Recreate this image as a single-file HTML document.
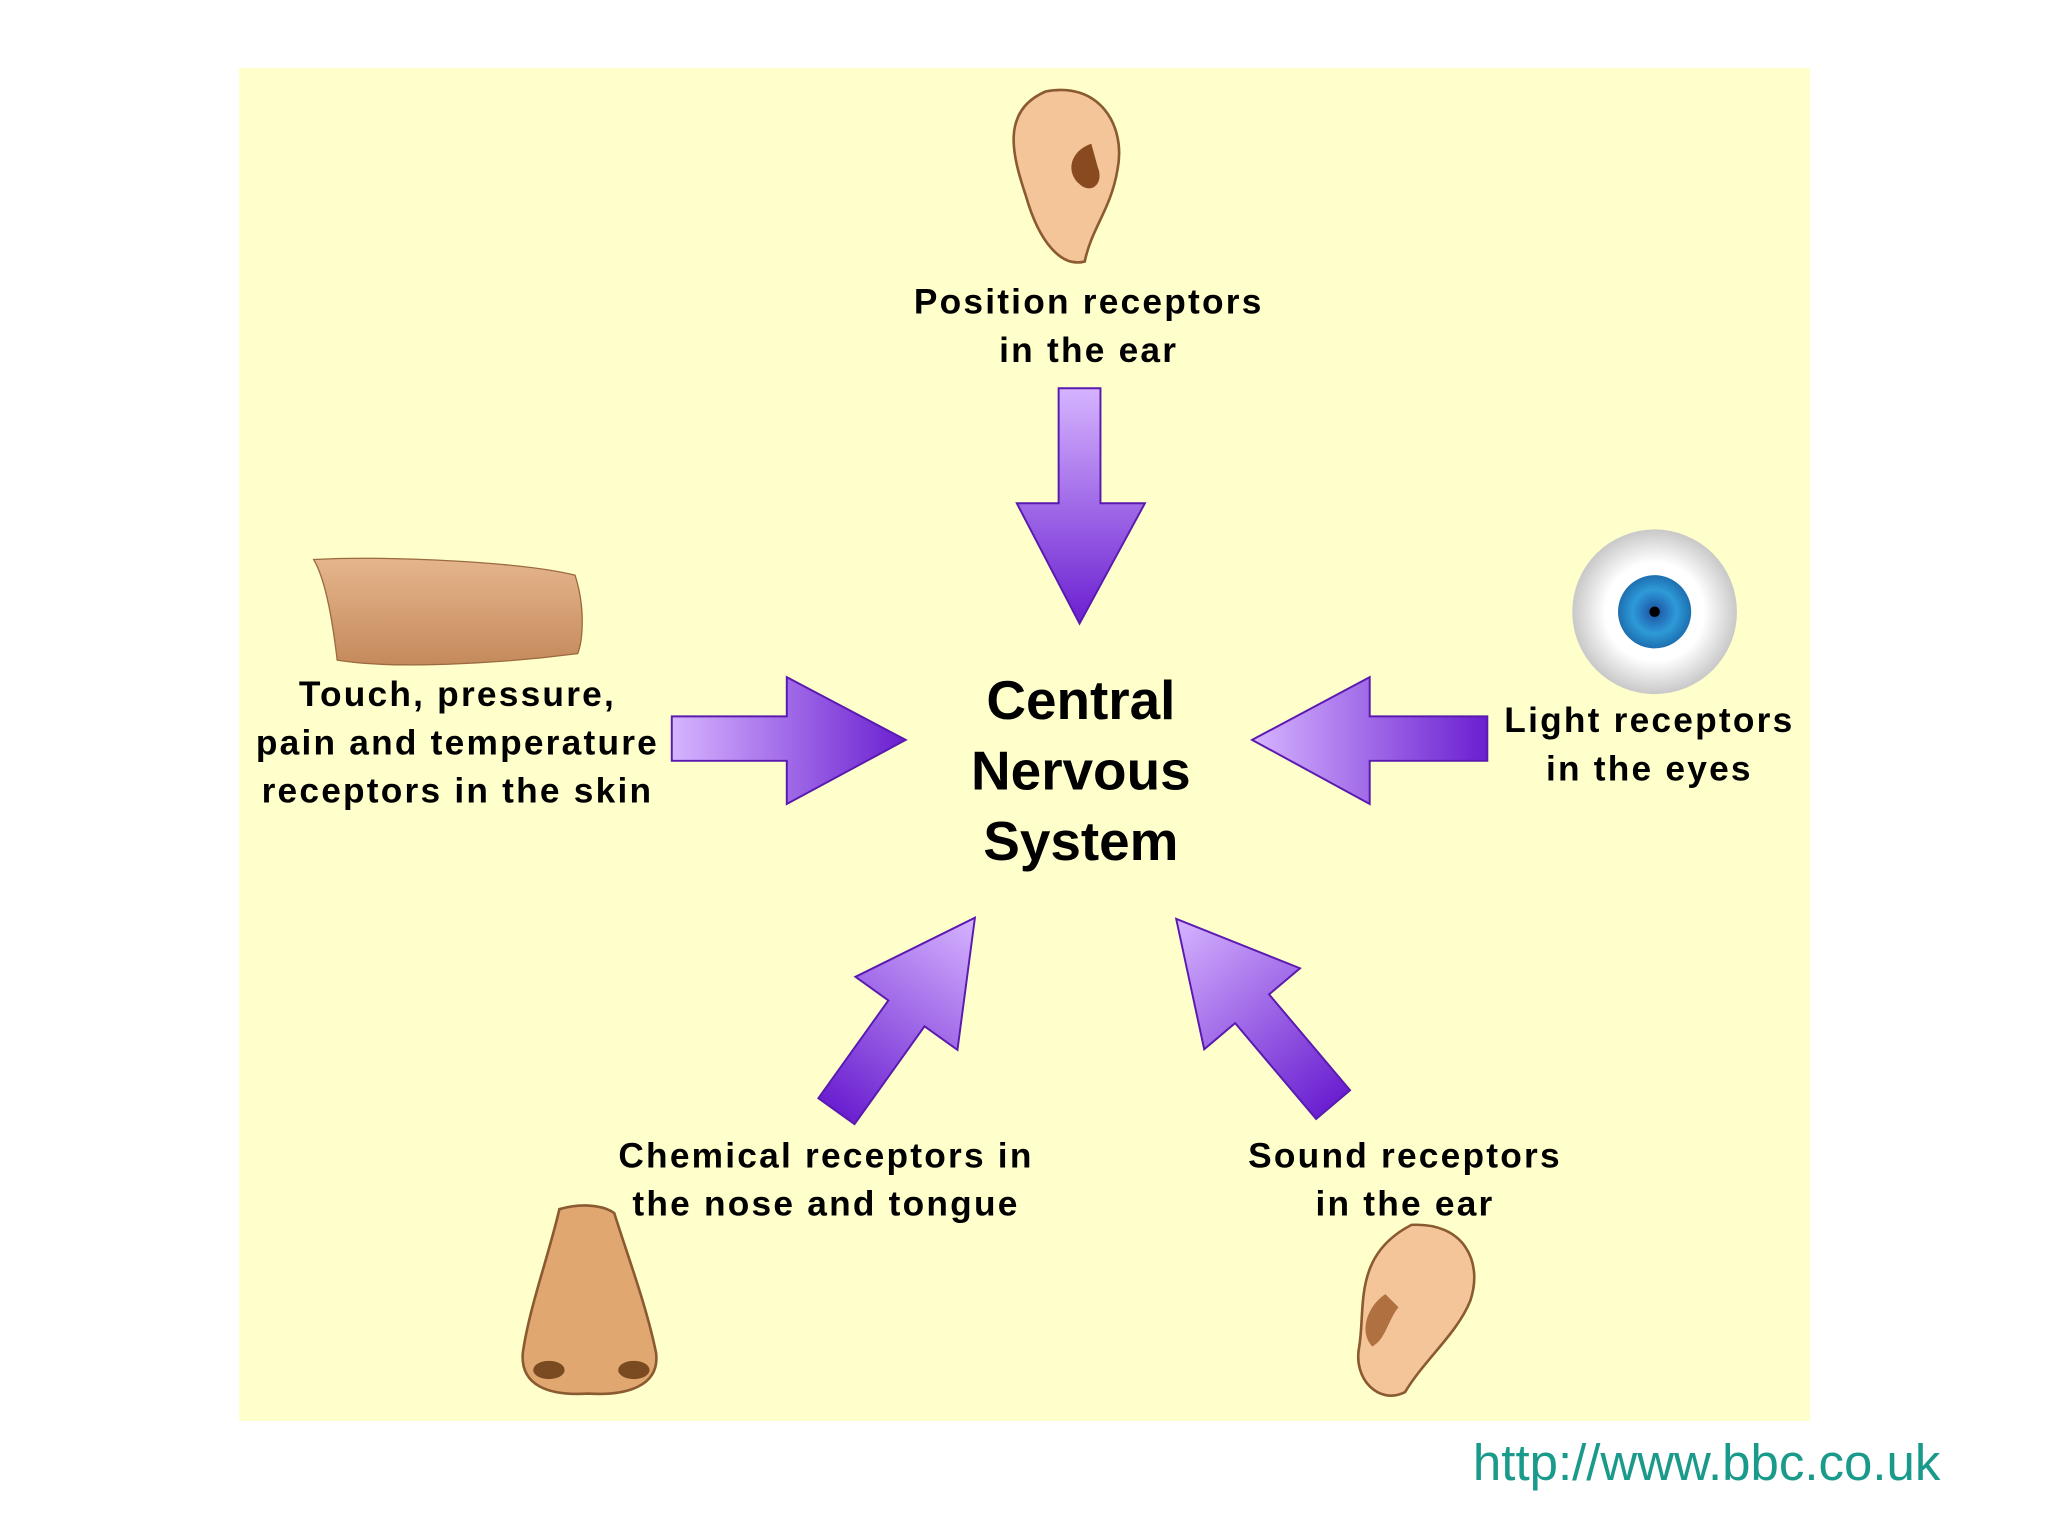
<!DOCTYPE html>
<html><head><meta charset="utf-8"><style>
html,body{margin:0;padding:0;background:#fff;}
svg{display:block;}
text{font-family:"Liberation Sans",Arial,sans-serif;}
.l{letter-spacing:1.7px;}
</style></head><body>
<svg width="2048" height="1536" viewBox="0 0 1567 1175" preserveAspectRatio="none" xmlns="http://www.w3.org/2000/svg">
<defs>
<linearGradient id="gd" x1="0" y1="0" x2="0" y2="1"><stop offset="0" stop-color="#d6b4ff"/><stop offset="1" stop-color="#6a1fd0"/></linearGradient>
<linearGradient id="gr" x1="0" y1="0" x2="1" y2="0"><stop offset="0" stop-color="#d6b4ff"/><stop offset="1" stop-color="#6a1fd0"/></linearGradient>
<linearGradient id="gl" x1="1" y1="0" x2="0" y2="0"><stop offset="0" stop-color="#6a1fd0"/><stop offset="1" stop-color="#d6b4ff"/></linearGradient>
<linearGradient id="ga" x1="0" y1="0" x2="1" y2="0"><stop offset="0" stop-color="#6a1fd0"/><stop offset="1" stop-color="#d6b4ff"/></linearGradient>
<radialGradient id="eye" cx="0.5" cy="0.5" r="0.5"><stop offset="0.6" stop-color="#ffffff"/><stop offset="1" stop-color="#c8c8c8"/></radialGradient>
<radialGradient id="iris" cx="0.5" cy="0.5" r="0.5"><stop offset="0" stop-color="#1a4fa0"/><stop offset="0.6" stop-color="#2e9ad8"/><stop offset="1" stop-color="#1d6fb0"/></radialGradient>
<linearGradient id="skin" x1="0" y1="0" x2="0" y2="1"><stop offset="0" stop-color="#e6b58c"/><stop offset="1" stop-color="#c48a5c"/></linearGradient>
</defs>
<rect x="183" y="52" width="1202" height="1035" fill="#ffffcc"/>

<path d="M800,70 C840,62 862,95 855,130 C850,160 835,175 830,200 C812,205 795,185 785,150 C775,120 765,85 800,70 Z" fill="#f5c59a" stroke="#8a5a30" stroke-width="2"/>
<path d="M835,110 C820,115 815,130 825,140 C835,150 845,140 840,128" fill="#8a4a20"/>
<text class="l" x="833" y="240" font-size="27" font-weight="bold" text-anchor="middle">Position receptors</text>
<text class="l" x="833" y="277" font-size="27" font-weight="bold" text-anchor="middle">in the ear</text>

<polygon points="810,297 842,297 842,385 876,385 826,477 778,385 810,385" fill="url(#gd)" stroke="#5a1ab0" stroke-width="1.5"/>

<path d="M240,428 C300,425 400,430 440,440 C448,465 446,490 442,500 C380,508 300,512 258,505 C255,480 250,445 240,428 Z" fill="url(#skin)" stroke="#9a6a40" stroke-width="1"/>
<text class="l" x="350" y="540" font-size="27" font-weight="bold" text-anchor="middle">Touch, pressure,</text>
<text class="l" x="350" y="577" font-size="27" font-weight="bold" text-anchor="middle">pain and temperature</text>
<text class="l" x="350" y="614" font-size="27" font-weight="bold" text-anchor="middle">receptors in the skin</text>

<polygon points="514,548 602,548 602,518 693,566 602,615 602,582 514,582" fill="url(#gr)" stroke="#5a1ab0" stroke-width="1.5"/>

<text x="827" y="550" font-size="42" font-weight="bold" text-anchor="middle">Central</text>
<text x="827" y="604" font-size="42" font-weight="bold" text-anchor="middle">Nervous</text>
<text x="827" y="658" font-size="42" font-weight="bold" text-anchor="middle">System</text>

<polygon points="1138,548 1048,548 1048,518 958,566 1048,615 1048,582 1138,582" fill="url(#gl)" stroke="#5a1ab0" stroke-width="1.5"/>

<circle cx="1266" cy="468" r="63" fill="url(#eye)"/>
<circle cx="1266" cy="468" r="28" fill="url(#iris)"/>
<circle cx="1266" cy="468" r="4" fill="#000"/>
<text class="l" x="1262" y="560" font-size="27" font-weight="bold" text-anchor="middle">Light receptors</text>
<text class="l" x="1262" y="597" font-size="27" font-weight="bold" text-anchor="middle">in the eyes</text>

<g transform="translate(640,850) rotate(-54.4)">
<polygon points="0,-17 92,-17 92,-48 182,0 92,48 92,17 0,17" fill="url(#ga)" stroke="#5a1ab0" stroke-width="1.5"/>
</g>
<g transform="translate(1020,845) rotate(-130.2)">
<polygon points="0,-17 96,-17 96,-48 186,0 96,48 96,17 0,17" fill="url(#ga)" stroke="#5a1ab0" stroke-width="1.5"/>
</g>

<text class="l" x="632" y="893" font-size="27" font-weight="bold" text-anchor="middle">Chemical receptors in</text>
<text class="l" x="632" y="930" font-size="27" font-weight="bold" text-anchor="middle">the nose and tongue</text>
<text class="l" x="1075" y="893" font-size="27" font-weight="bold" text-anchor="middle">Sound receptors</text>
<text class="l" x="1075" y="930" font-size="27" font-weight="bold" text-anchor="middle">in the ear</text>

<path d="M428,925 C445,920 462,922 470,928 C480,960 495,1000 502,1035 C505,1060 480,1068 450,1066 C420,1068 398,1060 400,1035 C405,1000 420,960 428,925 Z" fill="#e0a870" stroke="#8a5a30" stroke-width="2"/>
<ellipse cx="420" cy="1048" rx="12" ry="7" fill="#7a4a20"/>
<ellipse cx="485" cy="1048" rx="12" ry="7" fill="#7a4a20"/>

<path d="M1080,937 C1120,935 1135,965 1125,995 C1115,1020 1090,1040 1075,1065 C1055,1075 1035,1055 1040,1030 C1045,1000 1035,960 1080,937 Z" fill="#f5c59a" stroke="#8a5a30" stroke-width="2"/>
<path d="M1060,990 C1045,1000 1040,1020 1050,1030 C1060,1025 1062,1010 1070,1000" fill="#b07040"/>

<text x="1127" y="1132" font-size="39" fill="#1a9a8a">http://www.bbc.co.uk</text>
</svg>
</body></html>
